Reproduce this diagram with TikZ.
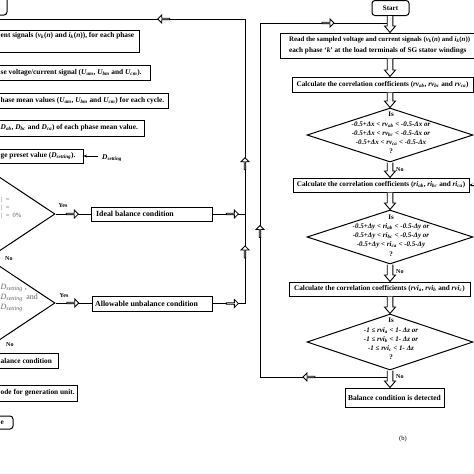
\documentclass[tikz,border=0pt]{standalone}
\usepackage{fontspec}
\setmainfont{Liberation Serif}
\usetikzlibrary{arrows.meta,shapes.geometric,shapes.arrows,calc}
\newcommand\holarr[2]{%
  \fill[white] let \p1=(#1), \p2=(#2) in (\x1-2.8pt,\y1) -- (\x1-2.8pt,\y2+6.5pt) -- (\x1-5.5pt,\y2+6.5pt) -- (\x1,\y2) -- (\x1+5.5pt,\y2+6.5pt) -- (\x1+2.8pt,\y2+6.5pt) -- (\x1+2.8pt,\y1) -- cycle;
  \draw[hl] let \p1=(#1), \p2=(#2) in (\x1-2.8pt,\y1) -- (\x1-2.8pt,\y2+6.5pt) -- (\x1-5.5pt,\y2+6.5pt) -- (\x1,\y2) -- (\x1+5.5pt,\y2+6.5pt) -- (\x1+2.8pt,\y2+6.5pt) -- (\x1+2.8pt,\y1);}
\begin{document}
\begin{tikzpicture}[x=1pt,y=-1pt,
  box/.style={draw, line width=1pt, inner sep=0pt},
  rbox/.style={draw, line width=1pt, inner sep=0pt, rounded corners=3pt},
  lbl/.style={inner sep=0pt, font=\fontsize{7.35}{8}\selectfont\bfseries},
  rtxt/.style={inner sep=0pt, font=\fontsize{7.2}{8}\selectfont\bfseries},
  dtxt/.style={inner sep=0pt, align=center, font=\fontsize{7}{9.2}\selectfont\bfseries\itshape},
  gtxt/.style={inner sep=0pt, text=black!60, font=\fontsize{6.5}{7}\selectfont},
  ln/.style={line width=1pt},
  hl/.style={line width=0.9pt, line join=miter},
  blk/.style={single arrow, draw, fill=white, line width=0.8pt, minimum height=12pt, minimum width=8pt, single arrow head extend=1.8pt, inner sep=0pt},
  dia/.style={diamond, draw, line width=1pt, inner sep=0pt},
  yn/.style={inner sep=0pt, font=\fontsize{6}{6.5}\selectfont\bfseries},
]
\useasboundingbox (0,0) rectangle (474,474);
\clip (0,0) rectangle (474,474);

% ---------------- left panel ----------------
\node[rbox, minimum width=37pt, minimum height=25pt] (b0) at (-11.5,2.5) {};
\node[box, minimum width=199pt, minimum height=22pt] (b1) at (39.5,41) {};
\node[lbl, anchor=west] (b1t) at (0.5,35.5) {ent signals (\textit{v\textsubscript{k}}(\textit{n}) and \textit{i\textsubscript{k}}(\textit{n})), for each phase};
\node[box, minimum width=210pt, minimum height=15pt] (b2) at (45,72.5) {};
\node[lbl, anchor=west] (b2t) at (0.5,72.5) {se voltage/current signal (\textit{U\textsubscript{am}}, \textit{U\textsubscript{bm}} and \textit{U\textsubscript{cm}}).};
\node[box, minimum width=228pt, minimum height=15pt] (b3) at (54,100.5) {};
\node[lbl, anchor=west] (b3t) at (0.5,100.5) {hase mean values (\textit{U\textsubscript{am}}, \textit{U\textsubscript{bm}} and \textit{U\textsubscript{cm}}) for each cycle.};
\node[box, minimum width=204pt, minimum height=16pt] (b4) at (42,128) {};
\node[lbl, anchor=west] (b4t) at (0.5,128) {\textit{D\textsubscript{ab}}, \textit{D\textsubscript{bc}} and \textit{D\textsubscript{ca}}) of each phase mean value.};
\node[box, minimum width=143pt, minimum height=14pt] (b5) at (11.5,156) {};
\node[lbl, anchor=west] (b5t) at (0.5,156) {ge preset value (\textit{D\textsubscript{setting}}).};
\node[lbl, anchor=west] (dset) at (102,158) {\textit{D\textsubscript{setting}}};
\draw[line width=0.7pt, -{Stealth[length=3.5pt,width=3pt]}] (dset.west) ++(-4,-2) coordinate (dsa) -- (b5.east |- dsa);

\node[dia, minimum width=126pt, minimum height=84pt] (ld1) at (-8,214) {};
\node[gtxt, anchor=west, align=left] (ld1t) at (1,208) {|\,\,\,=\\[1pt]|\,\,\,=\\[1pt]|\,\,\,=\,\,\,0\%};
\node[dia, minimum width=126pt, minimum height=84pt] (ld2) at (-8,303) {};
\node[gtxt, anchor=west, font=\fontsize{8}{9}\selectfont] (ld2a) at (0.5,288) {\textit{D}\textsubscript{\textit{setting}} ,};
\node[gtxt, anchor=west, font=\fontsize{8}{9}\selectfont] (ld2b) at (0.5,298) {\textit{D}\textsubscript{\textit{setting}}\, and};
\node[gtxt, anchor=west, font=\fontsize{8}{9}\selectfont] (ld2c) at (0.5,308) {\textit{D}\textsubscript{\textit{setting}}};
\node[yn, anchor=west] (no1) at (5,259) {No};
\node[yn, anchor=west] (no2) at (6,345) {No};
\node[yn] (yes1) at (63,206) {Yes};
\node[yn] (yes2) at (64,296) {Yes};

\node[box, minimum width=121pt, minimum height=14pt] (ideal) at (151.5,214) {};
\node[lbl, anchor=west, font=\fontsize{7.8}{8.5}\selectfont\bfseries] (idealt) at (96,214) {Ideal balance condition};
\node[box, minimum width=120pt, minimum height=15pt] (allow) at (152,303.5) {};
\node[lbl, anchor=west, font=\fontsize{7.8}{8.5}\selectfont\bfseries] (allowt) at (95,303.5) {Allowable unbalance condition};

\node[box, minimum width=118pt, minimum height=15pt] (b6) at (-1,360.5) {};
\node[lbl, anchor=west] (b6t) at (0.5,360.5) {alance condition};
\node[box, minimum width=137pt, minimum height=16pt] (b7) at (8.5,393) {};
\node[lbl, anchor=west] (b7t) at (0.5,393) {ode for generation unit.};
\node[rbox, minimum width=53pt, minimum height=13pt] (b8) at (-13.5,422.5) {};
\node[lbl, anchor=west] (b8t) at (0.5,422.5) {e};

\draw[ln] (ld1.east) -- node[blk, pos=0.47]{} (ideal.west);
\draw[ln] (ld2.east) -- node[blk, pos=0.47]{} (allow.west |- ld2.east);

\coordinate (lvtop) at (245,19);
\coordinate (lvend) at (0,19);
\draw[ln] (ideal.east) -- node[blk, pos=0.6]{} (ideal.east -| lvtop);
\draw[ln] (allow.east) -- node[blk, pos=0.6]{} (allow.east -| lvtop)
   -- node[blk, rotate=90, pos=0.18]{} node[blk, rotate=90, pos=0.49]{} (lvtop)
   -- node[blk, rotate=180, pos=0.33]{} (lvend);

% ---------------- right panel ----------------
\coordinate (ax) at (390,0);
\node[rbox, minimum width=37pt, minimum height=15pt] (start) at (390.5,8) {};
\node[lbl, font=\fontsize{7}{7.5}\selectfont\bfseries] (startt) at (390.5,8.5) {Start};
\node[box, minimum width=210pt, minimum height=25pt] (r1) at (385,45.5) {};
\node[rtxt, anchor=west, font=\fontsize{6.85}{8}\selectfont\bfseries] (r1a) at (289,40) {Read the sampled voltage and current signals (\textit{v\textsubscript{k}}(\textit{n}) and \textit{i\textsubscript{k}}(\textit{n}))};
\node[rtxt, anchor=west] (r1b) at (289,51) {each phase ‘\textit{k}’ at the load terminals of SG stator windings};
\node[box, minimum width=181pt, minimum height=15pt] (r2) at (382.5,84.5) {};
\node[rtxt] (r2t) at (382.5,84.5) {Calculate the correlation coefficients (\textit{rv\textsubscript{ab}}, \textit{rv\textsubscript{bc}} and \textit{rv\textsubscript{ca}})};
\node[dia, minimum width=166pt, minimum height=54pt] (d1) at (390,135) {};
\node[dtxt] (d1t) at (391,133) {\upshape Is\\-0.5+Δ\textit{x} < \textit{rv\textsubscript{ab}} < -0.5-Δ\textit{x} or\\-0.5+Δ\textit{x} < \textit{rv\textsubscript{bc}} < -0.5-Δ\textit{x} or\\-0.5+Δ\textit{x} < \textit{rv\textsubscript{ca}} < -0.5-Δ\textit{x}\\\upshape ?};
\node[box, minimum width=176pt, minimum height=14pt] (r3) at (381,185) {};
\node[rtxt] (r3t) at (381,185) {Calculate the correlation coefficients (\textit{ri\textsubscript{ab}}, \textit{ri\textsubscript{bc}} and \textit{ri\textsubscript{ca}})};
\node[dia, minimum width=166pt, minimum height=54pt] (d2) at (390,237) {};
\node[dtxt] (d2t) at (391,235.5) {\upshape Is\\-0.5+Δ\textit{y} < \textit{ri\textsubscript{ab}} < -0.5-Δ\textit{y} or\\-0.5+Δ\textit{y} < \textit{ri\textsubscript{bc}} < -0.5-Δ\textit{y} or\\-0.5+Δ\textit{y} < \textit{ri\textsubscript{ca}} < -0.5-Δ\textit{y}\\\upshape ?};
\node[box, minimum width=181pt, minimum height=14pt] (r4) at (379.5,289) {};
\node[rtxt] (r4t) at (379.5,289) {Calculate the correlation coefficients (\textit{rvi\textsubscript{a}}, \textit{rvi\textsubscript{b}} and \textit{rvi\textsubscript{c}})};
\node[dia, minimum width=166pt, minimum height=56pt] (d3) at (390,342) {};
\node[dtxt] (d3t) at (391,339) {\upshape Is\\-1 ≤ \textit{rvi\textsubscript{a}} < 1- Δ\textit{z} or\\-1 ≤ \textit{rvi\textsubscript{b}} < 1- Δ\textit{z} or\\-1 ≤ \textit{rvi\textsubscript{c}} < 1- Δ\textit{z}\\\upshape ?};
\node[box, minimum width=99pt, minimum height=19pt] (r5) at (394.5,397.5) {};
\node[rtxt, font=\fontsize{7.5}{8}\selectfont\bfseries] (r5t) at (394.5,397.5) {Balance condition is detected};
\node[inner sep=0pt, font=\fontsize{6.5}{7}\selectfont] (cap) at (403,439) {(b)};

\node[yn, anchor=west] (rno1) at (396,170) {No};
\node[yn, anchor=west] (rno2) at (396,272) {No};
\node[yn, anchor=west] (rno3) at (396,377) {No};

% loop back
\coordinate (j3) at (390,377);
\coordinate (lc1) at (260,377);
\coordinate (lc2) at (260,23);
\coordinate (j0) at (390,23);
\draw[ln] (j3) -- node[blk, rotate=180, pos=0.62]{} (lc1)
   -- node[blk, rotate=90, pos=0.41]{} (lc2)
   -- node[blk, pos=0.52]{} (j0);
\coordinate (r3in) at (476,185);
\draw[line width=0.7pt, -{Stealth[length=3pt,width=3pt]}] (r3in) -- (r3.east);

% hollow main arrows
\holarr{start.south -| ax}{r1.north -| ax}
\holarr{r1.south -| ax}{r2.north -| ax}
\holarr{r2.south -| ax}{d1.north}
\holarr{d1.south}{r3.north -| ax}
\holarr{r3.south -| ax}{d2.north}
\holarr{d2.south}{r4.north -| ax}
\holarr{r4.south -| ax}{d3.north}
\holarr{d3.south}{r5.north -| ax}
\end{tikzpicture}
\end{document}
